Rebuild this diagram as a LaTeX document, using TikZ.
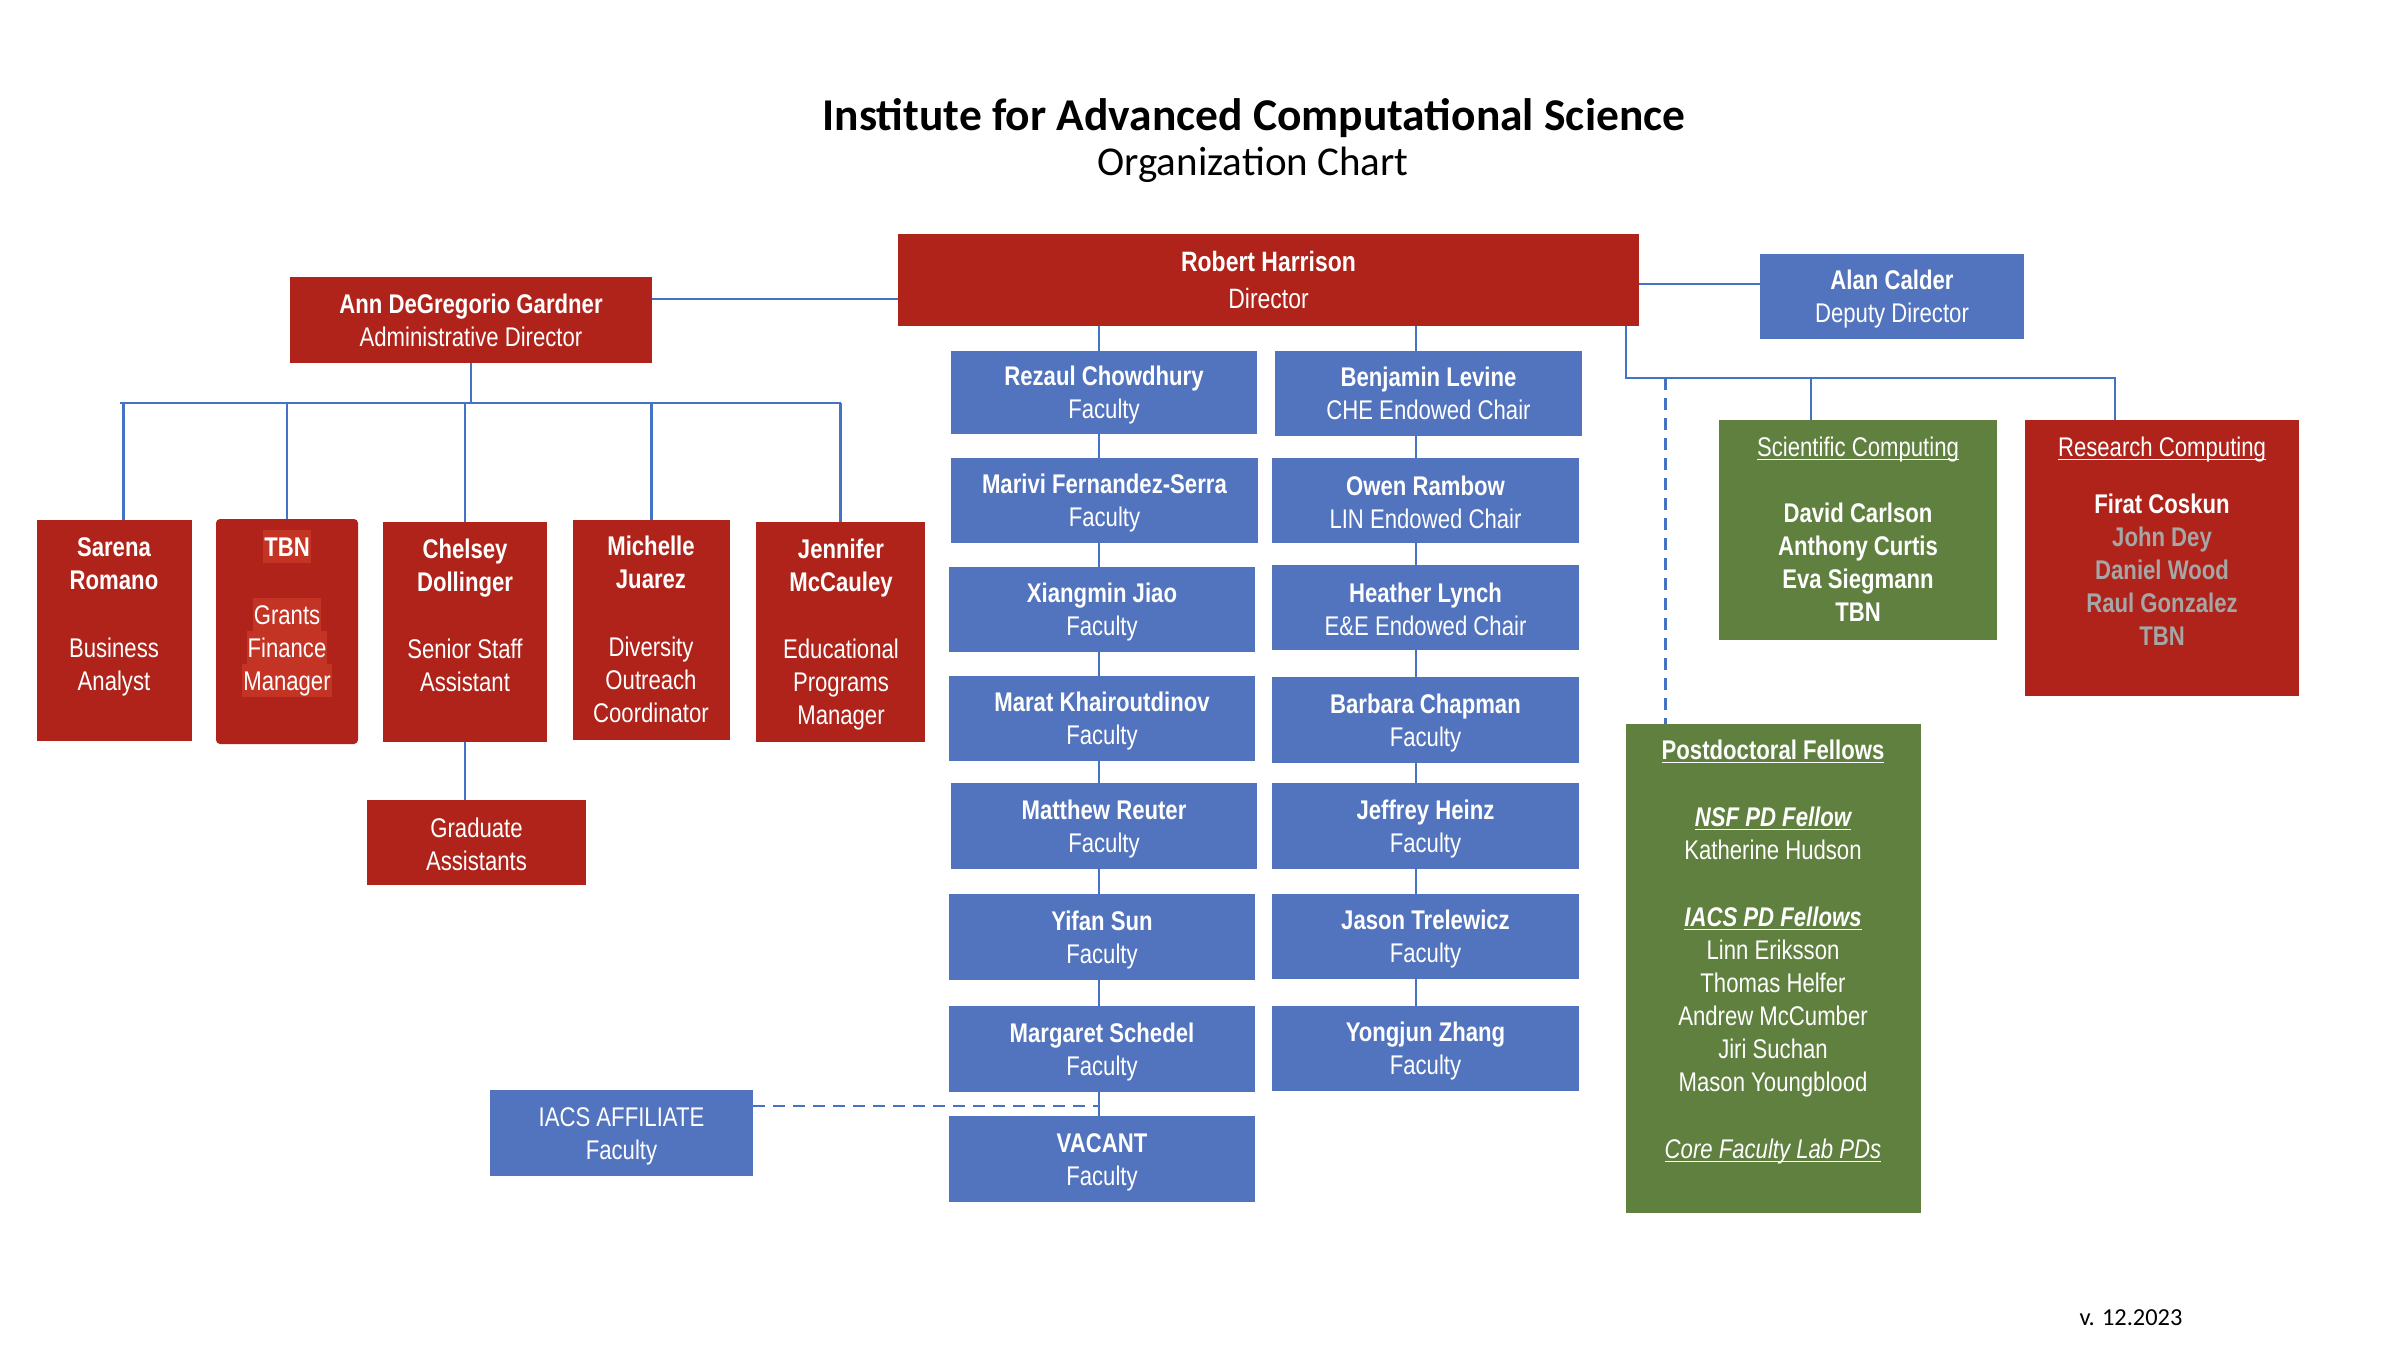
\documentclass[tikz,border=0pt]{standalone}
\usepackage{fontspec}
\newfontfamily\narrow[FakeStretch=0.82]{Liberation Sans}
\newfontfamily\calibri{Carlito}
\definecolor{ired}{RGB}{175,35,26}
\definecolor{iblue}{RGB}{82,115,190}
\definecolor{igreen}{RGB}{95,128,62}
\definecolor{iline}{RGB}{68,114,196}
\definecolor{ihl}{RGB}{196,52,36}
\definecolor{igray}{RGB}{166,166,166}
\newcommand\myul[1]{\setbox0=\hbox{#1}\rlap{\rule[-0.13em]{\wd0}{0.065em}}\box0}
\newcommand\myhl[1]{{\fboxsep=0pt\colorbox{ihl}{\rule[-3.25pt]{0pt}{16.5pt}\hspace{0.5pt}#1\hspace{0.5pt}}}}
\def\orgdy{0pt}
% \orgbox[options]{name}{x1}{y1}{x2}{y2}{text}
\newcommand\orgbox[7][]{%
  \node[#1, minimum width={(#5-#3)*0.5pt}, minimum height={(#6-#4)*0.5pt}] (#2) at ({(#3+#5)/2},{(#4+#6)/2}) {};
  \if\relax\detokenize{#7}\relax\else
  \node[#1, fill=none, draw=none, minimum width=0pt, minimum height=0pt, rounded corners=0pt, yshift=\orgdy] (#2T) at (#2.center) {#7};
  \fi}
\begin{document}
\begin{tikzpicture}[x=0.5pt,y=-0.5pt,
  tdy/.store in=\orgdy,
  box/.style={inner sep=0pt, text=white, align=center, font={\narrow\fontsize{13.5}{16.5}\selectfont}},
  redbox/.style={box, fill=ired},
  bluebox/.style={box, fill=iblue, tdy=-1.5pt},
  greenbox/.style={box, fill=igreen},
  txt/.style={inner sep=0pt, text=white, align=center, anchor=north, font={\narrow\fontsize{13.5}{16.5}\selectfont\lineskiplimit=-5pt}},
  conn/.style={draw=iline, line width=1.2pt},
  dconn/.style={conn, dash pattern=on 6pt off 4pt},
]
\useasboundingbox (0,0) rectangle (2390,1354);

% titles
\node[anchor=base, inner sep=0pt, font={\calibri\bfseries\fontsize{22.75}{27}\selectfont}] (title) at (1254,131) {Institute for Advanced Computational Science};
\node[anchor=base, inner sep=0pt, font={\calibri\fontsize{20.5}{24}\selectfont}] (subtitle) at (1253,176) {Organization Chart};
\node[anchor=base, inner sep=0pt, font={\calibri\fontsize{12.2}{14}\selectfont}] (ver) at (2131,1325) {v. 12.2023};

% top level
\orgbox[redbox, font={\narrow\fontsize{14}{18.5}\selectfont}]{robert}{898}{234}{1639}{326}{\textbf{Robert Harrison}\\Director}
\orgbox[redbox]{ann}{290}{277}{652}{363}{\textbf{Ann DeGregorio Gardner}\\Administrative Director}
\orgbox[bluebox]{alan}{1760}{254}{2024}{339}{\textbf{Alan Calder}\\Deputy Director}

% admin staff
\orgbox[redbox]{sarena}{37}{520}{192}{741}{}
\orgbox[redbox, rounded corners=2pt]{tbn}{216}{519}{358}{744}{}
\orgbox[redbox]{chelsey}{383}{522}{547}{742}{}
\orgbox[redbox]{michelle}{573}{520}{730}{740}{}
\orgbox[redbox]{jennifer}{756}{522}{925}{742}{}
\node[txt] (sarenaT) at (114,537) {\textbf{Sarena}\\\textbf{Romano}\\[17.5pt]Business\\Analyst};
\node[txt] (tbnT) at (287,530) {\myhl{\textbf{TBN}}\\[17.5pt]\myhl{Grants}\\\myhl{Finance}\\\myhl{Manager}};
\node[txt] (chelseyT) at (465,539) {\textbf{Chelsey}\\\textbf{Dollinger}\\[17pt]Senior Staff\\Assistant};
\node[txt] (michelleT) at (651,536) {\textbf{Michelle}\\\textbf{Juarez}\\[17.5pt]Diversity\\Outreach\\Coordinator};
\node[txt] (jenniferT) at (841,539) {\textbf{Jennifer}\\\textbf{McCauley}\\[17pt]Educational\\Programs\\Manager};
\orgbox[redbox, tdy=-0.7pt]{grad}{367}{800}{586}{885}{Graduate\\Assistants}

% faculty left column
\orgbox[bluebox]{rezaul}{951}{351}{1257}{434}{\textbf{Rezaul Chowdhury}\\Faculty}
\orgbox[bluebox]{marivi}{951}{458}{1258}{543}{\textbf{Marivi Fernandez-Serra}\\Faculty}
\orgbox[bluebox]{xiangmin}{949}{567}{1255}{652}{\textbf{Xiangmin Jiao}\\Faculty}
\orgbox[bluebox]{marat}{949}{676}{1255}{761}{\textbf{Marat Khairoutdinov}\\Faculty}
\orgbox[bluebox]{matthew}{951}{783}{1257}{869}{\textbf{Matthew Reuter}\\Faculty}
\orgbox[bluebox]{yifan}{949}{894}{1255}{980}{\textbf{Yifan Sun}\\Faculty}
\orgbox[bluebox]{margaret}{949}{1006}{1255}{1092}{\textbf{Margaret Schedel}\\Faculty}
\orgbox[bluebox]{vacant}{949}{1116}{1255}{1202}{\textbf{VACANT}\\Faculty}
% faculty right column
\orgbox[bluebox, tdy=0pt]{levine}{1275}{351}{1582}{436}{\textbf{Benjamin Levine}\\CHE Endowed Chair}
\orgbox[bluebox, tdy=-0.8pt]{rambow}{1272}{458}{1579}{543}{\textbf{Owen Rambow}\\LIN Endowed Chair}
\orgbox[bluebox, tdy=-0.8pt]{lynch}{1272}{565}{1579}{650}{\textbf{Heather Lynch}\\E\&E Endowed Chair}
\orgbox[bluebox]{chapman}{1272}{677}{1579}{763}{\textbf{Barbara Chapman}\\Faculty}
\orgbox[bluebox]{heinz}{1272}{783}{1579}{869}{\textbf{Jeffrey Heinz}\\Faculty}
\orgbox[bluebox]{trelewicz}{1272}{894}{1579}{979}{\textbf{Jason Trelewicz}\\Faculty}
\orgbox[bluebox]{zhang}{1272}{1006}{1579}{1091}{\textbf{Yongjun Zhang}\\Faculty}

\orgbox[bluebox]{iacs}{490}{1090}{753}{1176}{IACS AFFILIATE\\Faculty}

% computing groups
\orgbox[greenbox]{scientific}{1719}{420}{1997}{640}{}
\orgbox[redbox]{research}{2025}{420}{2299}{696}{}
\orgbox[greenbox]{postdoc}{1626}{724}{1921}{1213}{}
\node[txt] (scientificT) at (1858,437) {\myul{Scientific Computing}\\[16.5pt]\textbf{David Carlson}\\\textbf{Anthony Curtis}\\\textbf{Eva Siegmann}\\\textbf{TBN}};
\node[txt] (researchT) at (2162,437) {\myul{Research Computing}\\[12pt]\textbf{Firat Coskun}\\\textcolor{igray}{\textbf{John Dey}}\\\textcolor{igray}{\textbf{Daniel Wood}}\\\textcolor{igray}{\textbf{Raul Gonzalez}}\\\textcolor{igray}{\textbf{TBN}}};
\node[txt] (postdocT) at (1773,740) {\myul{\textbf{Postdoctoral Fellows}}\\[17pt]\myul{\bfseries\itshape NSF PD Fellow}\\Katherine Hudson\\[17pt]\myul{\bfseries\itshape IACS PD Fellows}\\Linn Eriksson\\Thomas Helfer\\Andrew McCumber\\Jiri Suchan\\Mason Youngblood\\[17pt]\myul{\itshape Core Faculty Lab PDs}};

% connectors
\coordinate (colL) at (1099,0);
\coordinate (colR) at (1416,0);
\foreach \a/\b in {robert/rezaul, rezaul/marivi, marivi/xiangmin, xiangmin/marat, marat/matthew, matthew/yifan, yifan/margaret, margaret/vacant}
  \draw[conn] (\a.south -| colL) -- (\b.north -| colL);
\foreach \a/\b in {robert/levine, levine/rambow, rambow/lynch, lynch/chapman, chapman/heinz, heinz/trelewicz, trelewicz/zhang}
  \draw[conn] (\a.south -| colR) -- (\b.north -| colR);

\coordinate (annR) at ([yshift=10.5pt]ann.east);
\draw[conn] (annR) -- (annR -| robert.west);
\coordinate (busA) at (470,403);
\coordinate (sarenaTop) at ([xshift=4.5pt]sarena.north);
\draw[conn] (ann.south) -- (ann.south |- busA);
\draw[conn] ([xshift=-2pt]sarenaTop |- busA) -- (jennifer.north |- busA);
\draw[conn] (sarenaTop |- busA) -- (sarenaTop);
\foreach \n in {tbn,chelsey,michelle,jennifer}
  \draw[conn] (\n.north |- busA) -- (\n.north);
\draw[conn] (chelsey.south) -- (chelsey.south |- grad.north);

\coordinate (iacsR) at ([yshift=13.5pt]iacs.east);
\draw[dconn] (iacsR) -- (iacsR -| colL);

\coordinate (robR) at ([yshift=-2pt]robert.east);
\draw[conn] (robR) -- (robR -| alan.west);

\coordinate (busR) at (1626,378);
\coordinate (sciTop) at ([xshift=-23.5pt]scientific.north);
\coordinate (resTop) at ([xshift=-23.5pt]research.north);
\coordinate (pdTop) at ([xshift=-54pt]postdoc.north);
\draw[conn] (robert.south -| busR) -- (busR) -| (resTop);
\draw[conn] (sciTop |- busR) -- (sciTop);
\draw[dconn] (pdTop |- busR) -- (pdTop);
\end{tikzpicture}
\end{document}
